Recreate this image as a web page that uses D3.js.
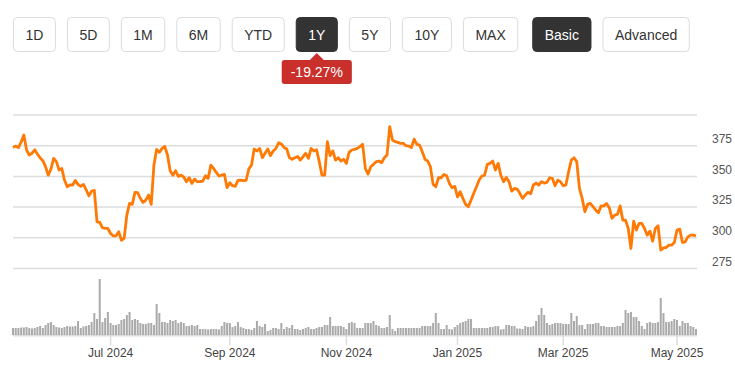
<!DOCTYPE html>
<html>
<head>
<meta charset="utf-8">
<script src="https://cdn.jsdelivr.net/npm/d3@7"></script>
<style>
    body { margin: 0; background: #fff; }
    svg { display: block; font-family: "Liberation Sans", Arial, sans-serif; }
</style>
</head>
<body>
<svg id="canvas" width="735" height="378"></svg>
<script>
// Range and mode buttons.
var rangeButtons = ["1D", "5D", "1M", "6M", "YTD", "1Y", "5Y", "10Y", "MAX"];
var modeButtons = ["Basic", "Advanced"];
var activeRange = "1Y";
var activeMode = "Basic";
var changeLabel = "-19.27%";

// Trading calendar for the 1Y window.
var firstDay = "2024-05-08";
var lastDay = "2025-05-12";
var holidays = ["2024-05-27", "2024-06-19", "2024-07-04", "2024-09-02", "2024-11-28",
    "2024-12-25", "2025-01-01", "2025-01-09", "2025-01-20", "2025-02-17", "2025-04-18"];

// Daily close, one per trading day.
var prices = [
    373.6, 374.7, 373.4, 378, 383.7, 371.5, 367.4, 368.8, 371.7, 368.2,
    365.2, 362.8, 357.9, 351, 356, 364.7, 362, 355.2, 356.5, 347,
    341.6, 343, 343, 346.7, 343.5, 341.9, 343.5, 339.1, 334.2, 338,
    338.6, 313, 312.5, 308.2, 307.6, 307.6, 303.5, 301.6, 301.6, 305,
    298, 299.5, 318.5, 328, 327.2, 337, 336.7, 332, 328.8, 330.7,
    334.8, 327.2, 359.2, 372, 369.6, 372.8, 374.5, 367.4, 354.4, 351,
    354.6, 350, 351, 349.5,
    345.7, 349, 344.3, 347.8, 345.7, 345.7, 346.2, 350.5, 348.4, 359.2,
    356.5, 353.3, 350.3, 351, 351.6, 340.8, 344.8, 342.4, 341.9, 346.7,
    347, 346.5, 346.7, 356, 359.2, 372.3, 370.7, 372.8, 365.2, 368.8,
    372.3, 366.9, 370.7, 372.8, 377.4, 376.4, 373.6, 372.3, 365.2, 363.9,
    365.2, 366.3, 363.3, 366, 368.8, 364.7, 372.8, 370.7, 371.7, 362,
    351, 351, 378.3, 366.9, 370.7, 363.3, 365.2, 362.5, 363.9, 360.6,
    369.6, 371.5,
    372, 372.8, 374.2, 376.1, 356.5, 351.9, 357.9, 359.8, 362, 362.5,
    361.1, 365.2, 367.4, 390.5, 379.6, 378.3, 377.7, 376.9, 376.9, 375,
    374.7, 373.4, 380.4, 376.1, 375.5, 370.1, 363.9, 362.5, 357.9, 343.5,
    341.6, 348.9, 348.9, 351.6, 350.5, 344.3, 340.8, 341.9, 333.4, 337.5,
    332.1, 327.2, 325.3, 330.7, 336.2, 341.6, 347, 350.3, 351, 359.8,
    360.6, 362.5, 355.2, 360.6, 351, 345.7, 349.2, 345.7, 338, 340.2,
    339.7, 336.2,
    332.1, 334.8, 337, 335.9, 343, 344.6, 343, 345.7, 344.6, 345.1,
    348.9, 348.4, 342.4, 347, 345.7, 342.4, 343, 353.8, 363.3, 365.2,
    362, 340.2, 332.1, 321.2, 327.2, 328, 325.3, 322.6, 320.4, 326,
    326, 328, 324.5, 315.8, 318.5, 319, 326, 314.4, 314.4, 307.6,
    291.3, 313.6, 306.3, 311.7, 311.7, 307.6, 302.2, 305.4, 297.3, 307.6,
    309.8, 290, 291.8, 292.1, 294, 294, 296.2, 306.3, 307.1, 296.2,
    296.7, 300.8, 302.2, 302.2, 301.6
];

// Daily volume (hundred thousand shares).
var volumes = [
    7, 7, 7, 7.5, 7.5, 8, 7, 6.5, 7, 8,
    9, 7, 10, 12, 13, 10, 8, 7.5, 7, 8,
    9, 8.5, 8.5, 9, 14, 7, 8.5, 9, 10, 13,
    22, 16, 56, 13, 17, 23, 12, 10, 10, 11,
    15, 16, 20, 23, 15, 16, 15, 12, 11, 11,
    12, 12, 10, 31, 22, 13, 13, 12, 15, 14,
    15, 12, 13, 12, 9, 9, 10, 9, 10, 6,
    6, 6, 5.5, 6, 6, 6, 5.5, 9, 13, 12,
    12, 8, 9, 13, 8, 7, 6, 6, 5, 7,
    14, 9, 8, 11, 4, 5, 7, 7, 6, 12,
    6, 8, 7, 10, 6, 6, 5, 6, 7, 8,
    6, 6, 7, 8, 8, 10, 10, 18, 9, 9,
    9, 9, 8, 6, 12, 13, 12, 7, 7, 7,
    12, 12, 12, 14, 10, 9, 7, 7, 8, 20,
    6, 4, 7, 7, 7, 7, 7, 7, 7, 7,
    7, 9, 9, 9, 9, 12, 22, 12, 6, 6,
    10, 6, 5.5, 8, 10, 12, 13, 14, 16, 16,
    7, 7, 7, 7, 7, 7, 8, 8, 9, 9,
    5.5, 6, 10, 10, 9, 9, 6.5, 6.5, 6, 9,
    8, 8, 9, 14, 20, 27, 20, 12, 10, 11,
    12, 12, 12, 11, 11, 11, 22, 14, 19, 10,
    10, 6, 11, 11, 11, 12, 12, 9, 9, 8,
    8, 8, 8, 9, 9, 12, 25, 22, 23, 18,
    18, 14, 9, 6, 12, 13, 12, 12, 13, 37,
    22, 13, 13, 14, 16, 15, 9, 14, 12, 12,
    9, 8, 6
];

// Axis values.
var gridValues = [275, 300, 325, 350, 375, 400];
var labelValues = [275, 300, 325, 350, 375];
var tickMonths = ["2024-07", "2024-09", "2024-11", "2025-01", "2025-03", "2025-05"];

(function () {

    var svg = d3.select("#canvas");
    var left = 13, right = 697;
    var priceTop = 115, priceBottom = 268.5;
    var volBase = 335, volTop = 279;
    var lineColor = "#ff7a05";
    var gridColor = "#dddddd";

    // Build the trading days (weekdays minus exchange holidays).
    var parse = d3.timeParse("%Y-%m-%d");
    var fmtKey = d3.timeFormat("%Y-%m-%d");
    var days = d3.timeDay.range(parse(firstDay), d3.timeDay.offset(parse(lastDay), 1))
        .filter(d => d.getDay() !== 0 && d.getDay() !== 6 && holidays.indexOf(fmtKey(d)) < 0);
    var keys = days.map(fmtKey);

    var x = d3.scalePoint().domain(keys).range([left, right - 1]);
    var y = d3.scaleLinear().domain([275, 400]).range([priceBottom, priceTop]);
    var yVol = d3.scaleLinear().domain([0, d3.max(volumes)]).range([volBase, volTop]);

    // Buttons along the top.
    function drawButtons(labels, active, startX) {
        var cx = startX;
        labels.forEach(function (label) {
            var g = svg.append("g");
            var rect = g.append("rect");
            var text = g.append("text")
                .attr("font-size", 14)
                .attr("text-anchor", "middle")
                .attr("fill", label === active ? "#fff" : "#333")
                .text(label);
            var w = text.node().getComputedTextLength() + 24;
            rect.attr("x", cx + 0.5).attr("y", 17.5)
                .attr("width", w).attr("height", 34)
                .attr("rx", 4)
                .attr("fill", label === active ? "#333" : "#fff")
                .attr("stroke", label === active ? "#333" : "#dcdcdc");
            text.attr("x", cx + w / 2 + 0.5).attr("y", 39.5);
            if (label === activeRange) {
                drawBadge(cx + w / 2 + 0.5);
            }
            cx += w + 12;
        });
        return cx;
    }

    function drawBadge(cx) {
        var g = svg.append("g");
        var text = g.append("text")
            .attr("font-size", 14)
            .attr("text-anchor", "middle")
            .attr("fill", "#fff")
            .attr("x", cx).attr("y", 77)
            .text(changeLabel);
        var w = text.node().getComputedTextLength() + 18;
        g.insert("path", "text")
            .attr("d", "M" + (cx - 7) + ",60L" + cx + ",53L" + (cx + 7) + ",60Z")
            .attr("fill", "#c9302c");
        g.insert("rect", "text")
            .attr("x", cx - w / 2).attr("y", 60)
            .attr("width", w).attr("height", 24)
            .attr("rx", 3)
            .attr("fill", "#c9302c");
    }

    var next = drawButtons(rangeButtons, activeRange, left);
    drawButtons(modeButtons, activeMode, next + 3);

    // Horizontal grid lines and price labels.
    svg.append("g").selectAll("line")
        .data(gridValues)
        .join("line")
        .attr("x1", left).attr("x2", right)
        .attr("y1", d => y(d)).attr("y2", d => y(d))
        .attr("stroke", gridColor)
        .attr("stroke-width", 1.5);
    svg.append("g").selectAll("text")
        .data(labelValues)
        .join("text")
        .attr("x", 712)
        .attr("y", d => y(d) - 2.7)
        .attr("font-size", 12)
        .attr("fill", "#555")
        .text(d => d);

    // Volume baseline, bars and month ticks.
    svg.append("line")
        .attr("x1", left).attr("x2", right)
        .attr("y1", volBase + 0.5).attr("y2", volBase + 0.5)
        .attr("stroke", gridColor)
        .attr("stroke-width", 2);
    svg.append("g").selectAll("rect")
        .data(volumes)
        .join("rect")
        .attr("x", (d, i) => x(keys[i]) - 1)
        .attr("width", 2)
        .attr("y", d => yVol(d))
        .attr("height", d => volBase - yVol(d))
        .attr("fill", "#aaaaaa");

    var tickKeys = tickMonths.map(m => keys.find(k => k.indexOf(m) === 0));
    var ticks = svg.append("g").selectAll("g")
        .data(tickKeys)
        .join("g")
        .attr("transform", d => "translate(" + x(d) + ",0)");
    ticks.append("line")
        .attr("y1", volBase).attr("y2", volBase + 10)
        .attr("stroke", gridColor)
        .attr("stroke-width", 1.5);
    ticks.append("text")
        .attr("y", volBase + 21.5)
        .attr("text-anchor", "middle")
        .attr("font-size", 12)
        .attr("fill", "#444")
        .text(d => d3.timeFormat("%b %Y")(parse(d)));

    // Price line.
    var line = d3.line()
        .x((d, i) => x(keys[i]))
        .y(d => y(d));
    svg.append("path")
        .datum(prices)
        .attr("fill", "none")
        .attr("stroke", lineColor)
        .attr("stroke-width", 2.8)
        .attr("stroke-linejoin", "round")
        .attr("d", line);

})();
</script>
</body>
</html>
